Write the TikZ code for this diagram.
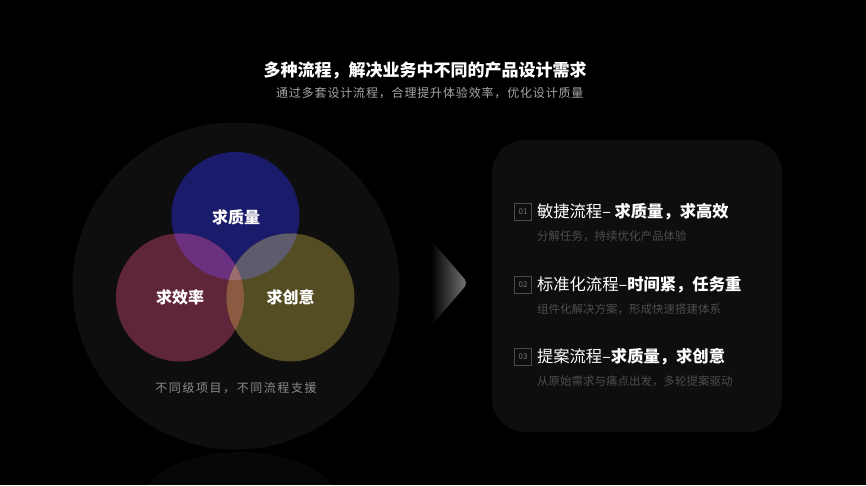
\documentclass[tikz,border=0pt]{standalone}
\usepackage{fontspec}
\setmainfont{Noto Sans CJK SC}
\newfontfamily\spacedcjk{Noto Sans CJK SC}[LetterSpace=7]
\newfontfamily\widecjk{Noto Sans CJK SC}[LetterSpace=13]
\usetikzlibrary{positioning}

\definecolor{ringfill}{HTML}{0E0E0E}
\definecolor{panelfill}{HTML}{0E0E0E}
\definecolor{floorfill}{HTML}{070707}
\definecolor{vennblue}{HTML}{1B1B6B}
\definecolor{vennred}{HTML}{5F2539}
\definecolor{vennolive}{HTML}{544C23}
\definecolor{vennpurple}{HTML}{6B3080}
\definecolor{venngrey}{HTML}{5E5B6C}
\definecolor{vennbrown}{HTML}{8A5B41}
\definecolor{vennpink}{HTML}{9A6E6E}
\definecolor{subgray}{HTML}{A6A6A6}
\definecolor{captiongray}{HTML}{8C8C8C}
\definecolor{notegray}{HTML}{4D4D4D}
\definecolor{boxgray}{HTML}{4A4A4A}
\definecolor{numgray}{HTML}{777777}

\begin{document}
\begin{tikzpicture}[x=1pt, y=-1pt,
    venntext/.style={text=white, font=\bfseries\fontsize{16}{16}\selectfont},
    numbox/.style={draw=boxgray, line width=0.7pt, minimum size=17pt, inner sep=0pt,
      text=numgray, font=\fontsize{8}{8}\selectfont},
    itemtitle/.style={right=5pt of #1, inner sep=0pt, text=white,
      font=\fontsize{16.3}{16.3}\selectfont},
    itemnote/.style={below=10pt of #1.south west, anchor=north west, inner sep=0pt,
      text=notegray, font=\fontsize{11.5}{12}\selectfont}]

    % background and page size
    \fill[black] (0, 0) rectangle (866, 485);
    \useasboundingbox (0, 0) rectangle (866, 485);

    % heading
    \node[text=white, font=\bfseries\fontsize{17}{17}\selectfont] (title) at (425, 70)
      {多种流程，解决业务中不同的产品设计需求};
    \node[anchor=east, text=subgray, font=\spacedcjk\fontsize{12}{12}\selectfont] (subtitle) at (587, 93)
      {通过多套设计流程，合理提升体验效率，优化设计质量};

    % draw floor shadow and outer circle
    \begin{scope}
      \clip (0, 0) rectangle (866, 484);
      \fill[floorfill] (240, 505) ellipse [x radius=100pt, y radius=53pt];
    \end{scope}
    \fill[ringfill] (236, 286) circle (163.5pt);

    % draw venn circles
    \coordinate (qa) at (235.5, 216);
    \coordinate (qb) at (180, 297.5);
    \coordinate (qc) at (290.5, 297.5);
    \fill[vennblue] (qa) circle (64pt);
    \fill[vennred] (qb) circle (64pt);
    \fill[vennolive] (qc) circle (64pt);
    \begin{scope}
      \clip (qa) circle (64pt);
      \fill[vennpurple] (qb) circle (64pt);
      \fill[venngrey] (qc) circle (64pt);
    \end{scope}
    \begin{scope}
      \clip (qb) circle (64pt);
      \fill[vennbrown] (qc) circle (64pt);
      \clip (qa) circle (64pt);
      \fill[vennpink] (qc) circle (64pt);
    \end{scope}

    \node[venntext] (quality) at (236, 217) {求质量};
    \node[venntext] (speed) at (qb) {求效率};
    \node[venntext] (idea) at (qc) {求创意};
    \node[text=captiongray, font=\widecjk\fontsize{12}{12}\selectfont] (caption) at (236, 388)
      {不同级项目，不同流程支援};

    % draw chevron
    \shade[left color=black, right color=gray!95!black]
      (431, 240) [rounded corners=5pt] -- (468, 283) [sharp corners] -- (431, 326) -- cycle;

    % draw right panel
    \fill[panelfill, rounded corners=33pt] (492, 140) rectangle (782, 432);

    % item 01
    \node[numbox] (n1) at (523, 212) {01};
    \node[itemtitle=n1] (t1) {敏捷流程– {\bfseries 求质量，求高效}};
    \node[itemnote=t1] (d1) {分解任务，持续优化产品体验};

    % item 02
    \node[numbox] (n2) at (523, 285) {02};
    \node[itemtitle=n2] (t2) {标准化流程–{\bfseries 时间紧，任务重}};
    \node[itemnote=t2] (d2) {组件化解决方案，形成快速搭建体系};

    % item 03
    \node[numbox] (n3) at (523, 357) {03};
    \node[itemtitle=n3] (t3) {提案流程–{\bfseries 求质量，求创意}};
    \node[itemnote=t3] (d3) {从原始需求与痛点出发，多轮提案驱动};

\end{tikzpicture}
\end{document}
